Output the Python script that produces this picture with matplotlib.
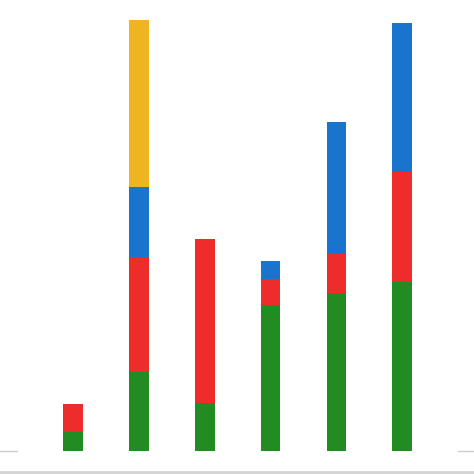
import matplotlib.pyplot as plt
from matplotlib.lines import Line2D

categories = ['A', 'B', 'C', 'D', 'E', 'F']
green = [19, 79, 48, 146, 158, 169]
red = [28, 115, 164, 26, 40, 110]
blue = [0, 70, 0, 18, 131, 149]
yellow = [0, 167, 0, 0, 0, 0]

series = [(green, '#228b22'), (red, '#ee2c2c'), (blue, '#1874cd'), (yellow, '#eeb422')]

fig = plt.figure(figsize=(4.74, 4.74), dpi=100)
ax = fig.add_axes([0, 23 / 474, 1, 451 / 474])
x = list(range(len(categories)))
bottom = [0] * len(categories)
for vals, col in series:
    ax.bar(x, vals, width=0.30, bottom=bottom, color=col, linewidth=0)
    bottom = [b + v for b, v in zip(bottom, vals)]

ax.set_xlim(-1.11, 6.09)
ax.set_ylim(0, 451)
ax.axis('off')

# baseline stubs and bottom rule
fig.add_artist(Line2D([0, 17 / 474], [23 / 474, 23 / 474], color='#cccccc', lw=1))
fig.add_artist(Line2D([458 / 474, 1], [23 / 474, 23 / 474], color='#cccccc', lw=1))
fig.add_artist(Line2D([0, 1], [2.5 / 474, 2.5 / 474], color='#d3d3d3', lw=2))

fig.savefig('out.png', dpi=100)
